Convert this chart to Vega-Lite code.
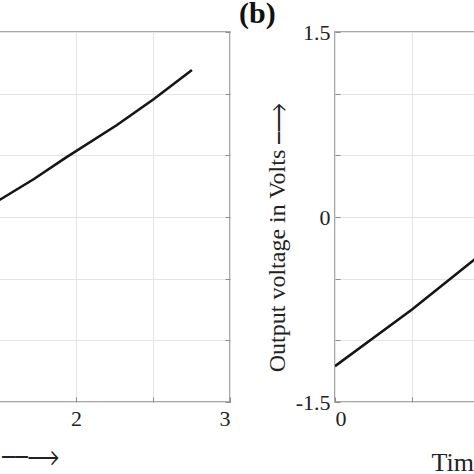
{
  "$schema": "https://vega.github.io/schema/vega-lite/v6.json",
  "padding": {"left": -234, "top": -2, "right": 0, "bottom": 0},
  "autosize": {"type": "pad"},
  "background": "white",
  "config": {
    "view": {"stroke": "#8c8c8c", "strokeWidth": 1.5},
    "font": "Liberation Serif",
    "axis": {
      "labelFont": "Liberation Serif",
      "titleFont": "Liberation Serif",
      "labelFontSize": 22,
      "titleFontSize": 26,
      "labelColor": "#222222",
      "titleColor": "#222222",
      "titleFontWeight": "normal",
      "gridColor": "#e4e4e4",
      "gridWidth": 1,
      "tickColor": "#8c8c8c",
      "tickSize": -5,
      "domain": false
    }
  },
  "datasets": {
    "a": [
      {"t": 1.45, "v": 0.1},
      {"t": 1.519, "v": 0.15},
      {"t": 1.727, "v": 0.308},
      {"t": 1.929, "v": 0.478},
      {"t": 2.266, "v": 0.746},
      {"t": 2.506, "v": 0.957},
      {"t": 2.753, "v": 1.192}
    ],
    "b": [
      {"t": 0, "v": -1.21},
      {"t": 0.5, "v": -0.75},
      {"t": 0.95, "v": -0.3},
      {"t": 1.0, "v": -0.25}
    ]
  },
  "spacing": 105,
  "bounds": "flush",
  "hconcat": [
    {
      "width": 462,
      "height": 370,
      "data": {"name": "a"},
      "mark": {"type": "line", "color": "#151515", "strokeWidth": 2.6, "clip": true},
      "encoding": {
        "x": {
          "field": "t", "type": "quantitative",
          "scale": {"domain": [0, 3], "nice": false, "zero": false},
          "axis": {
            "values": [0, 0.5, 1, 1.5, 2, 2.5, 3],
            "labelExpr": "datum.value % 1 == 0 ? format(datum.value, 'd') : ''",
            "labelPadding": 11,
            "title": "Time in seconds ⎯⎯⟶",
            "titleX": 291,
            "titleY": 61,
            "titleAlign": "right",
            "titleBaseline": "alphabetic",
            "titleAnchor": null
          }
        },
        "y": {
          "field": "v", "type": "quantitative",
          "scale": {"domain": [-1.5, 1.5], "nice": false, "zero": false},
          "axis": {
            "orient": "right",
            "values": [-1.5, -1, -0.5, 0, 0.5, 1, 1.5],
            "labels": false,
            "title": null
          }
        }
      }
    },
    {
      "width": 462,
      "height": 370,
      "data": {"name": "b"},
      "title": {
        "text": "(b)",
        "anchor": "start",
        "frame": "group",
        "font": "Liberation Serif",
        "fontWeight": "bold",
        "fontSize": 30,
        "color": "#111111",
        "dx": -96,
        "offset": -8
      },
      "mark": {"type": "line", "color": "#151515", "strokeWidth": 2.6, "clip": true},
      "encoding": {
        "x": {
          "field": "t", "type": "quantitative",
          "scale": {"domain": [0, 3], "nice": false, "zero": false},
          "axis": {
            "values": [0, 0.5, 1, 1.5, 2, 2.5, 3],
            "labelExpr": "datum.value % 1 == 0 ? format(datum.value, 'd') : ''",
            "labelPadding": 11,
            "title": "Time in seconds ⎯⎯⟶",
            "titleX": 96,
            "titleY": 68,
            "titleAlign": "left",
            "titleBaseline": "alphabetic",
            "titleAnchor": null
          }
        },
        "y": {
          "field": "v", "type": "quantitative",
          "scale": {"domain": [-1.5, 1.5], "nice": false, "zero": false},
          "axis": {
            "values": [-1.5, -1, -0.5, 0, 0.5, 1, 1.5],
            "labelExpr": "datum.value == 0 ? '0' : datum.value == 1.5 ? '1.5' : datum.value == -1.5 ? '-1.5' : ''",
            "labelPadding": 10,
            "title": "Output voltage in Volts ⎯⟶",
            "titleFontSize": 24,
            "titleX": -58,
            "titleY": 205,
            "titleAngle": -90,
            "titleAlign": "center",
            "titleBaseline": "middle",
            "titleAnchor": null
          }
        }
      }
    }
  ]
}
